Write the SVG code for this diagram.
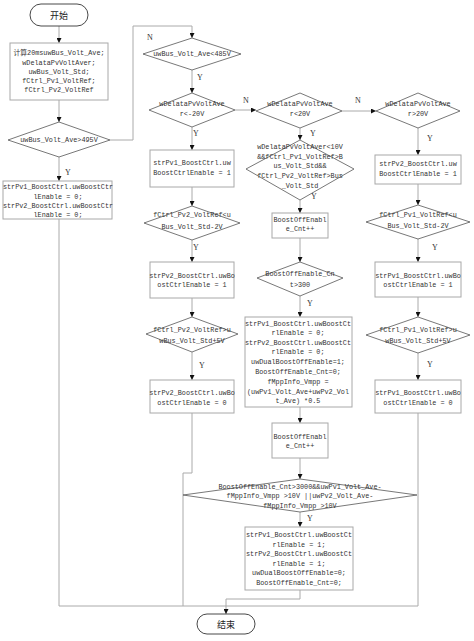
<svg xmlns="http://www.w3.org/2000/svg" width="474" height="641" viewBox="0 0 474 641">
<style>
.t{font-family:"Liberation Mono","Noto Sans CJK SC",monospace;font-size:6.8px;fill:#333;text-anchor:middle;dominant-baseline:central}
.c{font-family:"Noto Sans CJK SC",sans-serif;font-size:9px;fill:#222;text-anchor:middle;dominant-baseline:central}
.l{font-family:"Liberation Serif","Noto Sans CJK SC",serif;font-size:8px;fill:#333;text-anchor:middle;dominant-baseline:central}
.b{fill:#fff;stroke:#a8a8a8;stroke-width:1}
.d{fill:#fff;stroke:#555;stroke-width:0.8}
.r{fill:#fff;stroke:#333;stroke-width:0.9}
.e{fill:none;stroke:#aaa;stroke-width:1}
.a{marker-end:url(#ah)}
</style>
<defs>
<marker id="ah" viewBox="0 0 8 8" refX="8" refY="4" markerWidth="5" markerHeight="5" markerUnits="userSpaceOnUse" orient="auto"><path d="M0,0 L8,4 L0,8 z" fill="#111"/></marker>
</defs>
<g id="connectors">
<path class="e a" d="M59,26 V43"/>
<path class="e a" d="M59,100 V122"/>
<path class="e a" d="M59,157 V181"/>
<path class="e a" d="M110,140 H133 V26 H192 V38"/>
<path class="e" d="M59,219 V606 H418 V413"/>
<path class="e a" d="M192,70 V93"/>
<path class="e a" d="M192,127 V150"/>
<path class="e a" d="M235,110 H256"/>
<path class="e a" d="M342,111 H376"/>
<path class="e a" d="M300,128 V140"/>
<path class="e a" d="M418,128 V155"/>
<path class="e a" d="M418,184 V205"/>
<path class="e a" d="M418,239 V262"/>
<path class="e a" d="M418,297 V317"/>
<path class="e a" d="M418,353 V380"/>
<path class="e a" d="M192,187 V206"/>
<path class="e a" d="M192,240 V262"/>
<path class="e a" d="M192,298 V317"/>
<path class="e a" d="M192,352 V380"/>
<path class="e" d="M192,413 V473 H183 V606"/>
<path class="e a" d="M300,200 V213"/>
<path class="e a" d="M300,238 V262"/>
<path class="e a" d="M300,296 V317"/>
<path class="e a" d="M300,407 V423"/>
<path class="e a" d="M300,458 V479"/>
<path class="e a" d="M300,512 V527"/>
<path class="e a" d="M300,590 V599 H226 V614"/>
<text class="l" x="150" y="37">N</text>
<text class="l" x="246" y="100">N</text>
<text class="l" x="358" y="100">N</text>
<text class="l" x="68" y="172">Y</text>
<text class="l" x="200" y="77">Y</text>
<text class="l" x="196" y="133">Y</text>
<text class="l" x="313" y="133">Y</text>
<text class="l" x="430" y="138">Y</text>
<text class="l" x="314" y="196">Y</text>
<text class="l" x="196" y="247">Y</text>
<text class="l" x="435" y="247">Y</text>
<text class="l" x="202" y="365">Y</text>
<text class="l" x="430" y="364">Y</text>
<text class="l" x="310" y="303">Y</text>
<text class="l" x="310" y="518">Y</text>
</g>
<g id="start"><rect class="r" x="30" y="4" width="58" height="22" rx="11"/><text class="c" x="59" y="15">开始</text></g>
<g id="calc"><rect class="b" x="10" y="43" width="98" height="57"/>
<text class="t" x="59" y="53">计算20msuwBus_Volt_Ave;</text>
<text class="t" x="59" y="63">wDelataPvVoltAver;</text>
<text class="t" x="59" y="72">uwBus_Volt_Std;</text>
<text class="t" x="59" y="81">fCtrl_Pv1_VoltRef;</text>
<text class="t" x="59" y="90">fCtrl_Pv2_VoltRef</text></g>
<g id="d1"><path class="d" d="M59,122 L110,140 L59,157 L8,140 Z"/><text class="t" x="59" y="140">uwBus_Volt_Ave&gt;495V</text></g>
<g id="off"><rect class="b" x="3" y="181" width="109" height="38"/>
<text class="t" x="58" y="187">strPv1_BoostCtrl.uwBoostCtr</text>
<text class="t" x="58" y="196.5">lEnable = 0;</text>
<text class="t" x="58" y="206">strPv2_BoostCtrl.uwBoostCtr</text>
<text class="t" x="58" y="215">lEnable = 0;</text></g>
<g id="d2"><path class="d" d="M192,38 L241,54 L192,70 L143,54 Z"/><text class="t" x="192" y="54">uwBus_Volt_Ave&lt;485V</text></g>
<g id="d3"><path class="d" d="M192,93 L235,110 L192,127 L149,110 Z"/><text class="t" x="192" y="104">wDelataPvVoltAve</text><text class="t" x="192" y="114">r&lt;-20V</text></g>
<g id="d4"><path class="d" d="M300,93 L342,111 L300,128 L256,111 Z"/><text class="t" x="300" y="104">wDelataPvVoltAve</text><text class="t" x="300" y="114">r&lt;20V</text></g>
<g id="d5"><path class="d" d="M418,93 L460,111 L418,128 L376,111 Z"/><text class="t" x="418" y="104">wDelataPvVoltAve</text><text class="t" x="418" y="114">r&gt;20V</text></g>
<g id="b_pv1_on"><rect class="b" x="150" y="150" width="84" height="37"/><text class="t" x="192" y="163">strPv1_BoostCtrl.uw</text><text class="t" x="192" y="173">BoostCtrlEnable = 1</text></g>
<g id="b_pv2_on_r"><rect class="b" x="375" y="155" width="86" height="29"/><text class="t" x="418" y="164">strPv2_BoostCtrl.uw</text><text class="t" x="418" y="174">BoostCtrlEnable = 1</text></g>
<g id="d6"><path class="d" d="M300,140 L354,169 L300,200 L246,169 Z"/>
<text class="t" x="300" y="147">wDelataPvVoltAver&lt;10V</text>
<text class="t" x="300" y="157">&amp;&amp;fCtrl_Pv1_VoltRef&gt;B</text>
<text class="t" x="300" y="166">us_Volt_Std&amp;&amp;</text>
<text class="t" x="300" y="176">fCtrl_Pv2_VoltRef&gt;Bus</text>
<text class="t" x="300" y="186">_Volt_Std</text></g>
<g id="cnt1"><rect class="b" x="272" y="213" width="56" height="25"/><text class="t" x="300" y="220">BoostOffEnabl</text><text class="t" x="300" y="229">e_Cnt++</text></g>
<g id="d7"><path class="d" d="M192,206 L240,223 L192,240 L144,223 Z"/><text class="t" x="192" y="215">fCtrl_Pv2_VoltRef&lt;u</text><text class="t" x="192" y="227">Bus_Volt_Std-2V</text></g>
<g id="d8"><path class="d" d="M418,205 L470,222 L418,239 L366,222 Z"/><text class="t" x="418" y="215">fCtrl_Pv1_VoltRef&lt;u</text><text class="t" x="418" y="226">Bus_Volt_Std-2V</text></g>
<g id="d9"><path class="d" d="M300,262 L343,278 L300,296 L257,278 Z"/><text class="t" x="300" y="274">BoostOffEnable_Cn</text><text class="t" x="300" y="285">t&gt;300</text></g>
<g id="b_pv2_on"><rect class="b" x="150" y="262" width="84" height="36"/><text class="t" x="192" y="276">strPv2_BoostCtrl.uwBo</text><text class="t" x="192" y="285">ostCtrlEnable = 1</text></g>
<g id="b_pv1_on_r"><rect class="b" x="375" y="262" width="86" height="35"/><text class="t" x="418" y="276">strPv1_BoostCtrl.uwBo</text><text class="t" x="418" y="285">ostCtrlEnable = 1</text></g>
<g id="d10"><path class="d" d="M192,317 L238,334 L192,352 L146,334 Z"/><text class="t" x="192" y="330">fCtrl_Pv2_VoltRef&gt;u</text><text class="t" x="192" y="341">wBus_Volt_Std+5V</text></g>
<g id="d11"><path class="d" d="M418,317 L470,335 L418,353 L366,335 Z"/><text class="t" x="418" y="330">fCtrl_Pv1_VoltRef&gt;u</text><text class="t" x="418" y="341">wBus_Volt_Std+5V</text></g>
<g id="dual_on"><rect class="b" x="245" y="317" width="107" height="90"/>
<text class="t" x="298" y="324">strPv1_BoostCtrl.uwBoostCt</text>
<text class="t" x="298" y="333">rlEnable = 0;</text>
<text class="t" x="298" y="343">strPv2_BoostCtrl.uwBoostCt</text>
<text class="t" x="298" y="352">rlEnable = 0;</text>
<text class="t" x="298" y="362">uwDualBoostOffEnable=1;</text>
<text class="t" x="298" y="372">BoostOffEnable_Cnt=0;</text>
<text class="t" x="298" y="382">fMppInfo_Vmpp =</text>
<text class="t" x="298" y="392">(uwPv1_Volt_Ave+uwPv2_Vol</text>
<text class="t" x="298" y="401">t_Ave) *0.5</text></g>
<g id="b_pv2_off"><rect class="b" x="150" y="380" width="84" height="33"/><text class="t" x="192" y="393">strPv2_BoostCtrl.uwBo</text><text class="t" x="192" y="403">ostCtrlEnable = 0</text></g>
<g id="b_pv1_off"><rect class="b" x="375" y="380" width="86" height="33"/><text class="t" x="418" y="393">strPv1_BoostCtrl.uwBo</text><text class="t" x="418" y="403">ostCtrlEnable = 0</text></g>
<g id="cnt2"><rect class="b" x="272" y="423" width="56" height="35"/><text class="t" x="300" y="437">BoostOffEnabl</text><text class="t" x="300" y="446">e_Cnt++</text></g>
<g id="d12"><path class="d" d="M300,479 L417,495 L300,512 L183,495 Z"/>
<text class="t" x="300" y="487">BoostOffEnable_Cnt&gt;3000&amp;&amp;uwPv1_Volt_Ave-</text>
<text class="t" x="300" y="496">fMppInfo_Vmpp &gt;10V ||uwPv2_Volt_Ave-</text>
<text class="t" x="300" y="506">fMppInfo_Vmpp &gt;10V</text></g>
<g id="dual_off"><rect class="b" x="245" y="527" width="108" height="63"/>
<text class="t" x="299" y="535">strPv1_BoostCtrl.uwBoostCt</text>
<text class="t" x="299" y="545">rlEnable = 1;</text>
<text class="t" x="299" y="554">strPv2_BoostCtrl.uwBoostCt</text>
<text class="t" x="299" y="564">rlEnable = 1;</text>
<text class="t" x="299" y="573">uwDualBoostOffEnable=0;</text>
<text class="t" x="299" y="583">BoostOffEnable_Cnt=0;</text></g>
<g id="end"><rect class="r" x="197" y="614" width="58" height="20" rx="10"/><text class="c" x="226" y="624">结束</text></g>
</svg>
